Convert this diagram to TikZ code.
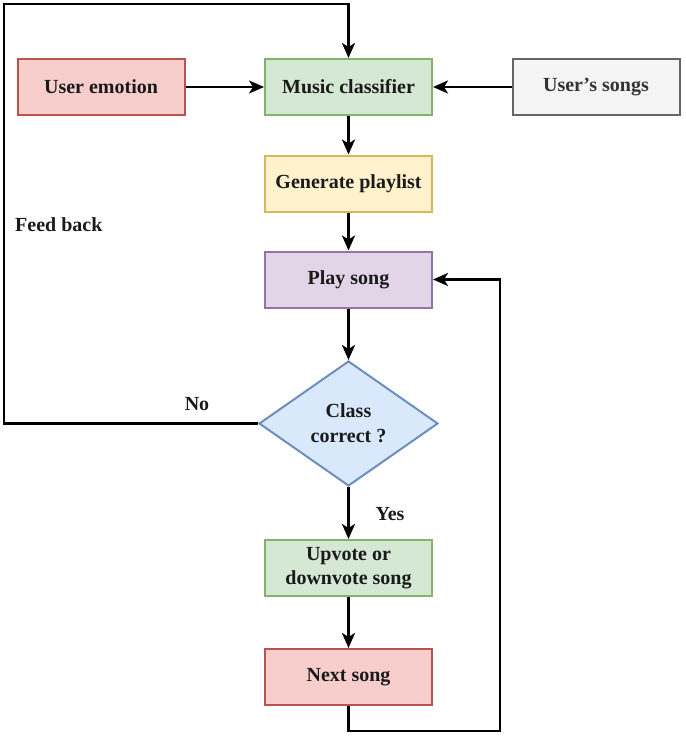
\documentclass[tikz,border=0pt]{standalone}
\usepackage{fontspec}
\setmainfont{Liberation Serif}
\usetikzlibrary{shapes.geometric,arrows.meta}
\definecolor{redF}{HTML}{F8CECC}\definecolor{redS}{HTML}{B85450}
\definecolor{grnF}{HTML}{D5E8D4}\definecolor{grnS}{HTML}{82B366}
\definecolor{gryF}{HTML}{F5F5F5}\definecolor{gryS}{HTML}{666666}
\definecolor{ylwF}{HTML}{FFF2CC}\definecolor{ylwS}{HTML}{D6B656}
\definecolor{prpF}{HTML}{E1D5E7}\definecolor{prpS}{HTML}{9673A6}
\definecolor{bluF}{HTML}{DAE8FC}\definecolor{bluS}{HTML}{6C8EBF}
\definecolor{txt}{HTML}{1A1A1A}
\tikzset{
  box/.style={rectangle, draw, line width=2pt, minimum width=167pt, minimum height=56pt, inner sep=2pt, align=center, font=\fontsize{20}{23}\selectfont\bfseries, text=txt},
  dec/.style={diamond, draw=bluS, fill=bluF, line width=2pt, minimum width=179pt, minimum height=125pt, inner sep=0pt, aspect=1.43, align=center, font=\fontsize{20}{25}\selectfont\bfseries, text=txt},
  conn/.style={line width=2.5pt, draw=black, -{Stealth[length=15pt,width=13pt,inset=4pt]}},
  lbl/.style={font=\fontsize{20}{23}\selectfont\bfseries, text=txt, inner sep=0pt}
}
\begin{document}
\begin{tikzpicture}[x=1pt,y=-1pt]
\useasboundingbox (0,0) rectangle (685,741);
\node[box, draw=redS, fill=redF] (emo) at (101,87) {User emotion};
\node[box, draw=grnS, fill=grnF] (mc) at (348.5,87) {Music classifier};
\node[box, draw=gryS, fill=gryF, text={black!80}] (us) at (596,87) {User{\char39}s songs};
\node[box, draw=ylwS, fill=ylwF] (gp) at (348.5,183.5) {Generate playlist};
\node[box, draw=prpS, fill=prpF] (ps) at (348.5,279.5) {Play song};
\node[dec] (dia) at (348.5,423.5) {Class\\correct ?};
\node[box, draw=grnS, fill=grnF, font=\fontsize{20}{24}\selectfont\bfseries] (up) at (348.5,568) {Upvote or\\downvote song};
\node[box, draw=redS, fill=redF] (ns) at (348.5,677) {Next song};
\coordinate (fl) at (4,423.5);
\coordinate (ft) at (4,4);
\coordinate (br) at (500,731);
\draw[conn] (emo) -- (mc);
\draw[conn] (us) -- (mc);
\draw[conn] (mc) -- (gp);
\draw[conn] (gp) -- (ps);
\draw[conn] (ps) -- (dia);
\draw[conn] (dia) -- (up);
\draw[conn] (up) -- (ns);
\draw[conn] (dia.west) -- (fl) -- (ft) -| (mc.north);
\draw[conn] (ns.south) |- (br) |- (ps.east);
\node[lbl] (no) at (197,404) {No};
\node[lbl, anchor=west] (fb) at (15,225) {Feed back};
\node[lbl] (yes) at (390,514) {Yes};
\end{tikzpicture}
\end{document}
